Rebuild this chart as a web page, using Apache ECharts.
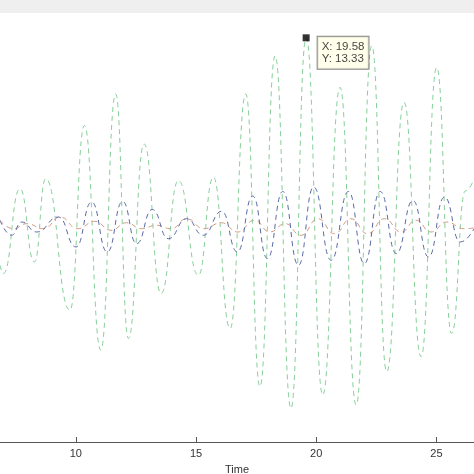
<!DOCTYPE html><html><head><meta charset="utf-8"><script src="https://cdn.jsdelivr.net/npm/echarts@6/dist/echarts.min.js"></script>
<style>html,body{margin:0;background:#fff}#c{width:474px;height:474px}</style></head><body><div id="c"></div><script>
const xTicks=[10,15,20,25];
const greenX=[6.85,6.99,7.68,8.28,8.75,9.76,10.36,11.04,11.66,12.19,12.84,13.55,14.27,15.10,15.72,16.42,17.07,17.66,18.29,18.95,19.58,20.27,20.99,21.66,22.31,22.93,23.65,24.36,25.01,25.63,26.2,26.56];
const greenY=[-2.6,-3.19,2.75,-2.38,3.45,-5.76,7.18,-8.55,9.39,-7.74,5.89,-4.59,3.33,-3.31,3.56,-7.04,9.39,-11.11,12.07,-12.63,13.33,-11.70,9.86,-12.40,12.77,-10.07,8.81,-9.02,11.25,-7.39,2.6,3.45];
const blueX=[6.85,7.33,7.75,8.37,9.28,10.01,10.66,11.31,11.95,12.53,13.18,13.85,14.61,15.30,16.07,16.72,17.36,17.97,18.61,19.26,19.89,20.62,21.34,22.00,22.66,23.33,24.02,24.67,25.33,25.99,26.56];
const blueY=[0.54,-0.51,0.42,-0.28,0.77,-1.33,1.82,-1.68,1.86,-1.10,1.30,-0.75,0.65,-0.51,1.17,-1.68,2.24,-2.14,2.56,-2.61,2.87,-2.26,2.56,-2.49,2.56,-1.79,1.93,-2.03,2.17,-0.98,-0.05];
const redX=[6.85,7.40,7.96,8.67,9.35,10.08,10.79,11.47,12.11,12.73,13.35,13.97,14.61,15.33,16.05,16.74,17.43,18.07,18.71,19.37,20.07,20.76,21.44,22.14,22.84,23.53,24.15,24.77,25.42,26.14,26.56];
const redY=[0.54,-0.05,0.30,-0.05,0.77,-0.05,0.47,-0.16,0.37,-0.05,0.19,-0.05,0.65,-0.05,0.37,-0.28,0.54,-0.28,0.30,-0.51,0.65,-0.40,0.65,-0.40,0.65,-0.28,0.54,-0.28,0.42,-0.05,0.0];
const tipX=[19.58], tipY=[13.33];
const z=(a,b)=>a.map((v,i)=>[v,b[i]]);
const ln=(d,c)=>({type:'line',data:d,smooth:0.5,smoothMonotone:'x',symbol:'none',lineStyle:{color:c,width:1,type:[5,4]}});
const ch=echarts.init(document.getElementById('c'));
ch.setOption({animation:false,
graphic:[{type:'rect',shape:{x:0,y:0,width:474,height:13},style:{fill:'#efefef'}}],
grid:{left:0,right:0,top:14,bottom:32,outerBoundsMode:'none',containLabel:false},
xAxis:{type:'value',min:6.85,max:26.56,name:'Time',nameLocation:'middle',nameGap:22,nameTextStyle:{color:'#333',fontSize:11,fontFamily:'Liberation Sans'},
 axisLine:{onZero:false,lineStyle:{color:'#555'}},axisTick:{show:true,inside:true,length:5,customValues:xTicks,lineStyle:{color:'#555'}},
 axisLabel:{customValues:xTicks,color:'#333',fontSize:11,fontFamily:'Liberation Sans',margin:6},splitLine:{show:false}},
yAxis:{type:'value',min:-15,max:15,show:false},
series:[ln(z(greenX,greenY),'#86cf98'),ln(z(redX,redY),'#d29a80'),ln(z(blueX,blueY),'#5c6aa6'),
{type:'scatter',data:z(tipX,tipY),symbol:'rect',symbolSize:7,itemStyle:{color:'#000'},z:10,
 label:{show:true,position:'right',offset:[3,15],formatter:'X: 19.58\nY: 13.33',backgroundColor:'#ffffe6',borderColor:'#666',borderWidth:1,padding:[4,4],color:'#111',fontSize:11.5,lineHeight:12,fontFamily:'Liberation Sans'}}]
});
</script></body></html>
